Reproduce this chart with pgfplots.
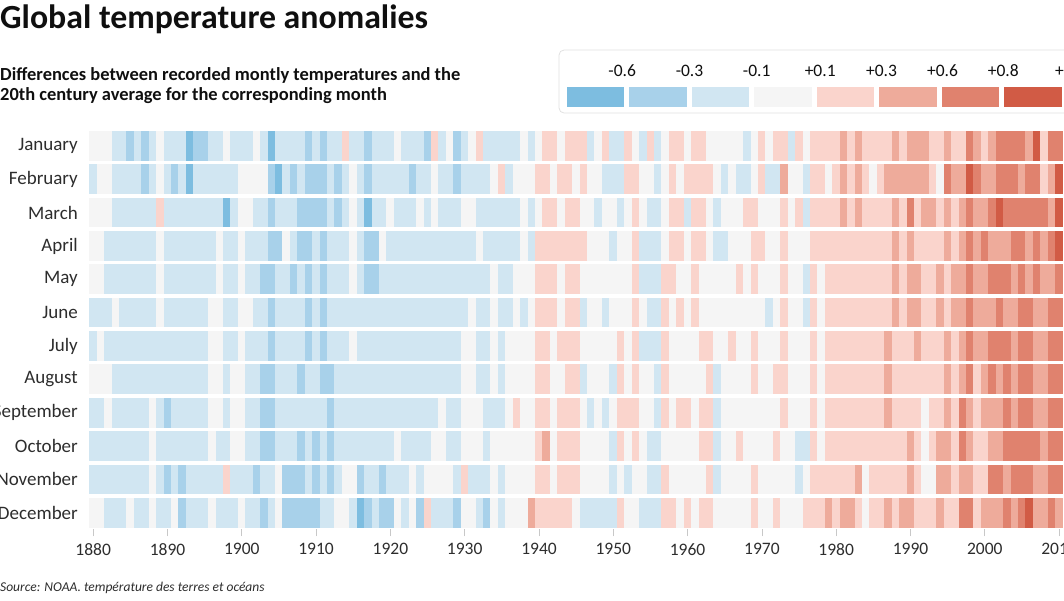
\documentclass[border=0pt]{standalone}
\usepackage{pgfplots}
\pgfplotsset{compat=1.18}
\usepackage{pgfplotstable}
\usepackage{fontspec}
\setmainfont{Carlito}
\definecolor{ink}{RGB}{15,15,15}
\definecolor{lab}{RGB}{45,45,45}
\definecolor{c0}{RGB}{125,189,224}
\definecolor{c1}{RGB}{168,209,234}
\definecolor{c2}{RGB}{209,230,242}
\definecolor{c3}{RGB}{245,245,245}
\definecolor{c4}{RGB}{250,212,204}
\definecolor{c5}{RGB}{238,171,155}
\definecolor{c6}{RGB}{224,130,110}
\definecolor{c7}{RGB}{209,91,69}
\definecolor{lgbox}{RGB}{225,225,225}
\definecolor{tickc}{RGB}{200,200,200}
\pgfdeclareplotmark{cell}{%
  \pgfpathrectangle{\pgfpoint{-3.95pt}{-14.85pt}}{\pgfpoint{7.9pt}{29.7pt}}%
  \pgfusepathqfill}
% anomaly class per month: 0 (< -0.6) ... 7 (>= +0.8)
\pgfplotstableread{
year jan feb mar apr may jun jul aug sep oct nov dec
1880 3 2 3 3 3 2 2 3 2 2 2 3
1881 3 3 3 3 3 2 3 3 2 2 2 3
1882 3 3 3 2 2 2 2 3 3 2 2 2
1883 2 2 2 2 2 3 2 2 2 2 2 2
1884 2 2 2 2 2 2 2 2 2 2 2 2
1885 1 2 2 2 2 2 2 2 2 2 2 3
1886 2 2 2 2 2 2 2 2 2 2 2 2
1887 1 1 2 2 2 2 2 2 2 2 2 2
1888 2 2 2 2 2 2 2 2 3 3 3 3
1889 3 3 4 3 3 3 2 2 2 2 2 2
1890 2 2 2 2 2 2 2 2 1 2 1 2
1891 2 1 2 2 2 2 2 2 2 2 2 3
1892 2 2 2 2 2 2 2 2 2 2 1 1
1893 0 0 2 2 2 2 2 2 2 2 2 2
1894 1 2 2 2 2 2 2 2 2 2 2 2
1895 1 2 2 2 2 2 2 2 2 2 2 2
1896 2 2 2 2 2 3 3 3 3 3 2 3
1897 2 2 2 3 3 3 3 3 3 2 2 2
1898 3 2 0 2 2 2 2 2 2 2 4 2
1899 2 2 2 2 2 2 2 3 3 3 2 2
1900 2 3 3 3 3 3 3 3 3 3 2 3
1901 2 3 3 2 2 3 2 2 2 2 2 2
1902 3 3 2 2 2 2 2 2 2 2 1 2
1903 2 3 2 2 1 2 2 1 1 1 2 1
1904 0 1 1 1 1 1 1 1 1 1 2 2
1905 2 0 2 1 2 2 2 2 2 2 3 3
1906 2 2 2 3 2 2 2 2 2 2 1 1
1907 2 1 2 2 1 2 2 2 2 2 1 1
1908 2 2 1 1 2 2 2 1 2 1 1 1
1909 1 1 1 1 1 1 1 2 2 2 2 1
1910 2 1 1 2 2 2 2 2 2 1 1 1
1911 1 1 1 1 1 1 1 1 2 2 2 2
1912 2 2 2 2 2 2 2 1 1 1 1 2
1913 2 1 1 2 2 2 2 2 2 2 2 3
1914 4 2 2 2 2 2 2 2 2 2 3 3
1915 2 3 3 3 3 2 3 2 2 2 3 2
1916 2 2 2 2 2 2 2 2 2 2 1 0
1917 1 1 0 1 1 2 2 2 2 2 2 1
1918 2 2 2 1 1 2 2 2 2 2 2 2
1919 2 2 2 3 2 2 2 2 2 2 1 1
1920 2 2 3 2 2 2 2 2 2 2 2 1
1921 3 2 2 2 2 2 2 2 2 3 2 3
1922 2 2 2 2 2 2 2 2 2 2 2 2
1923 2 1 2 2 2 2 2 2 2 2 3 3
1924 2 2 3 2 2 2 2 2 2 2 2 1
1925 1 2 2 2 2 2 2 2 2 2 3 4
1926 4 3 3 2 2 2 2 2 2 3 3 2
1927 2 2 2 2 2 2 2 2 3 3 3 2
1928 3 2 2 2 2 2 2 2 2 2 3 2
1929 1 1 2 2 2 2 2 2 2 2 2 1
1930 2 2 3 2 2 2 3 3 3 3 4 3
1931 3 2 3 2 2 3 3 3 3 3 2 3
1932 4 2 2 3 2 2 2 2 3 3 2 2
1933 2 2 2 2 2 2 2 2 2 2 2 1
1934 2 3 2 2 3 3 3 3 2 3 3 3
1935 2 4 2 2 2 2 2 2 2 3 2 2
1936 2 2 2 2 2 2 3 3 3 3 3 3
1937 2 3 2 2 3 3 3 3 4 3 3 3
1938 3 3 3 3 3 2 3 3 3 3 3 3
1939 2 3 2 2 3 3 3 3 3 3 3 5
1940 3 4 3 4 4 4 4 4 4 4 4 4
1941 4 4 4 4 4 4 4 4 4 5 4 4
1942 4 3 4 4 4 4 3 3 3 3 3 4
1943 3 4 3 4 3 3 4 3 4 4 4 4
1944 4 4 4 4 4 4 4 4 4 4 4 4
1945 4 3 4 4 4 4 4 4 4 4 4 3
1946 4 4 3 4 3 2 3 2 3 3 3 2
1947 2 3 3 3 3 3 3 3 2 3 3 2
1948 3 3 2 3 3 3 3 3 3 3 3 2
1949 4 2 3 3 3 2 3 3 2 3 3 2
1950 2 2 3 2 3 3 3 2 3 2 2 2
1951 2 2 2 3 3 3 4 4 4 4 3 4
1952 4 4 3 3 3 3 3 3 4 3 2 3
1953 3 4 4 4 4 4 4 4 4 4 3 3
1954 2 3 3 2 2 3 2 3 3 3 3 2
1955 4 3 2 2 2 2 2 3 3 2 2 2
1956 2 2 2 2 2 2 2 2 2 2 2 2
1957 3 3 3 3 4 4 4 4 4 3 4 4
1958 4 4 4 4 4 3 3 3 3 3 3 4
1959 4 3 4 4 3 4 3 3 4 3 3 3
1960 3 4 2 3 3 3 3 3 4 3 3 4
1961 4 4 4 4 4 4 3 3 3 3 3 3
1962 4 4 4 4 3 3 4 3 4 4 3 4
1963 3 4 3 3 3 3 4 4 4 4 4 4
1964 3 3 2 2 3 3 3 2 2 2 2 3
1965 3 2 3 2 3 3 3 3 3 3 3 3
1966 3 3 3 3 3 3 4 3 3 3 3 3
1967 3 2 3 3 4 3 3 3 3 4 3 3
1968 2 2 4 3 3 3 3 3 3 3 3 3
1969 3 3 4 4 4 3 4 4 3 3 4 4
1970 4 4 3 4 3 3 3 3 3 3 3 3
1971 3 2 3 3 3 2 3 3 3 3 3 3
1972 4 2 3 3 3 3 3 4 3 4 3 4
1973 4 5 4 4 4 4 4 4 4 3 3 3
1974 2 3 3 3 3 3 3 3 3 3 3 3
1975 4 3 4 3 3 3 3 3 3 2 2 3
1976 3 2 2 3 2 2 3 3 3 2 3 4
1977 4 4 4 4 4 4 4 4 4 4 4 4
1978 4 4 4 4 3 3 3 3 3 3 4 4
1979 4 3 4 4 4 4 4 4 4 4 4 5
1980 4 4 4 4 4 4 4 4 4 4 4 4
1981 5 5 5 4 4 4 4 4 4 4 4 5
1982 4 4 4 4 4 4 4 4 4 4 4 5
1983 5 5 5 4 4 4 4 4 4 4 5 4
1984 4 4 4 4 4 4 4 4 4 4 3 3
1985 4 3 4 4 4 4 4 4 4 4 4 4
1986 4 4 4 4 4 4 4 4 4 4 4 4
1987 4 5 4 4 4 4 5 5 5 4 4 5
1988 5 5 5 5 5 5 4 4 4 4 4 4
1989 4 5 4 4 4 4 4 4 4 4 4 5
1990 5 5 6 5 5 5 4 4 4 5 5 5
1991 5 5 4 4 5 5 5 4 4 4 4 4
1992 5 5 5 4 4 4 4 4 3 3 3 4
1993 4 4 5 4 4 4 4 4 4 4 3 4
1994 4 3 4 4 5 5 4 4 4 5 5 5
1995 5 6 5 5 4 4 5 5 5 5 5 4
1996 4 5 4 4 5 5 4 4 4 4 4 4
1997 4 5 5 5 5 5 5 5 6 6 5 6
1998 6 7 6 6 6 6 6 6 5 5 5 6
1999 5 6 5 5 5 5 5 4 4 4 4 4
2000 4 5 5 6 5 5 5 5 5 4 4 5
2001 5 5 6 5 6 5 6 6 5 5 6 5
2002 6 6 7 5 6 6 6 5 5 5 6 5
2003 6 6 6 5 6 5 6 6 6 6 5 6
2004 6 6 6 6 5 5 5 5 5 6 6 5
2005 6 5 6 6 6 6 6 6 6 6 6 6
2006 5 6 6 5 5 6 6 6 6 6 6 7
2007 7 6 6 6 6 5 5 5 5 6 5 5
2008 4 4 6 5 5 5 5 5 5 5 5 5
2009 6 5 5 6 5 6 6 6 6 6 6 6
2010 6 7 7 7 6 6 6 6 6 6 6 5
}\anom
\begin{document}
\begin{tikzpicture}[x=1pt,y=1pt]
\useasboundingbox (0,0) rectangle (1064,-600);
% titles
\node[anchor=base west, inner sep=0pt, text=ink] at (0,-28) {\fontsize{33.8}{33.8}\selectfont\bfseries Global temperature anomalies};
\node[anchor=base west, inner sep=0pt, text=ink] at (0,-80) {\fontsize{18.45}{18.45}\selectfont\bfseries Differences between recorded montly temperatures and the};
\node[anchor=base west, inner sep=0pt, text=ink] at (0,-100) {\fontsize{18.45}{18.45}\selectfont\bfseries 20th century average for the corresponding month};
% legend
\draw[draw=lgbox, fill=white, rounded corners=5pt, line width=0.8pt] (559,-50) rectangle (1100,-113);
\fill[c0] (566.7,-86.7) rectangle (624.0,-107.3);
\fill[c1] (629.0,-86.7) rectangle (686.7,-107.3);
\fill[c2] (691.7,-86.7) rectangle (749.3,-107.3);
\fill[c3] (754.3,-86.7) rectangle (811.7,-107.3);
\fill[c4] (817.0,-86.7) rectangle (874.3,-107.3);
\fill[c5] (879.3,-86.7) rectangle (937.0,-107.3);
\fill[c6] (941.7,-86.7) rectangle (999.3,-107.3);
\fill[c7] (1004.3,-86.7) rectangle (1061.7,-107.3);
\begin{scope}[every node/.style={anchor=base, inner sep=0pt, text=ink, font=\fontsize{17.5}{17.5}\selectfont}]
\node at (622.2,-76.7) {-0.6};
\node at (689.5,-76.7) {-0.3};
\node at (756.7,-76.7) {-0.1};
\node at (820.2,-76.7) {+0.1};
\node at (881.5,-76.7) {+0.3};
\node at (942.5,-76.7) {+0.6};
\node at (1003.3,-76.7) {+0.8};
\node at (1070.5,-76.7) {+1.0};
\end{scope}
\begin{axis}[
  at={(89.5pt,-529.4pt)}, anchor=south west,
  scale only axis, width=973.3pt, height=400.2pt,
  xmin=1879.5, xmax=2010.5, ymin=-0.5, ymax=11.5, y dir=reverse,
  axis line style={draw=none},
  xtick={1880,1890,...,2010},
  xticklabels={1880,1890,1900,1910,1920,1930,1940,1950,1960,1970,1980,1990,2000,2010},
  ytick={0,1,...,11},
  yticklabels={January,February,March,April,May,June,July,August,September,October,November,December},
  xtick pos=left, ytick pos=left,
  tick align=outside,
  major tick length=7pt,
  x tick style={draw=tickc, line width=0.8pt},
  y tick style={draw=none},
  xticklabel style={font=\fontsize{17.5}{17.5}\selectfont, text=lab, inner sep=0pt, yshift=-7pt},
  yticklabel style={font=\fontsize{19}{19}\selectfont, text=lab, inner sep=0pt, xshift=-4.5pt},
  colormap={anom}{rgb255=(125,189,224) rgb255=(168,209,234) rgb255=(209,230,242) rgb255=(245,245,245) rgb255=(250,212,204) rgb255=(238,171,155) rgb255=(224,130,110) rgb255=(209,91,69)},
  point meta min=0, point meta max=7,
  cellrow/.style={scatter, only marks, mark=cell, point meta=explicit,
    scatter/use mapped color={draw=none, fill=mapped color}},
]
\addplot[cellrow] table[x=year, y expr=0, meta=jan] {\anom};
\addplot[cellrow] table[x=year, y expr=1, meta=feb] {\anom};
\addplot[cellrow] table[x=year, y expr=2, meta=mar] {\anom};
\addplot[cellrow] table[x=year, y expr=3, meta=apr] {\anom};
\addplot[cellrow] table[x=year, y expr=4, meta=may] {\anom};
\addplot[cellrow] table[x=year, y expr=5, meta=jun] {\anom};
\addplot[cellrow] table[x=year, y expr=6, meta=jul] {\anom};
\addplot[cellrow] table[x=year, y expr=7, meta=aug] {\anom};
\addplot[cellrow] table[x=year, y expr=8, meta=sep] {\anom};
\addplot[cellrow] table[x=year, y expr=9, meta=oct] {\anom};
\addplot[cellrow] table[x=year, y expr=10, meta=nov] {\anom};
\addplot[cellrow] table[x=year, y expr=11, meta=dec] {\anom};
\end{axis}
\node[anchor=base west, inner sep=0pt, text=lab] at (0,-591) {\fontsize{13.5}{13.5}\selectfont\itshape Source: NOAA. température des terres et océans};
\end{tikzpicture}
\end{document}
